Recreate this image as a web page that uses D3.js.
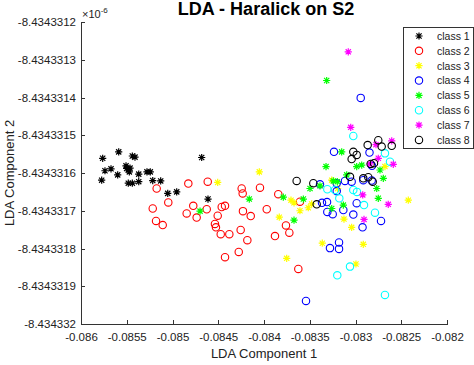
<!DOCTYPE html>
<meta charset="utf-8">
<script src="https://d3js.org/d3.v7.min.js"></script>
<style>
body { margin: 0; background: #fff; }
svg { font-family: "Liberation Sans", Arial, sans-serif; }
.axis path, .axis line { stroke: #333; shape-rendering: crispEdges; }
.axis text { fill: #222; font-size: 11.5px; }
</style>
<body>
<div id="chart"></div>
<script>
// LDA component values (component 2 shown in units of 1e-6)
var class1 = [[-0.085763,-8.434331561],[-0.085588,-8.434331544],[-0.085439,-8.434331555],[-0.085410,-8.434331558],
  [-0.085738,-8.434331594],[-0.085672,-8.434331589],[-0.085599,-8.434331605],[-0.085501,-8.434331588],
  [-0.085483,-8.434331592],[-0.085472,-8.434331597],[-0.085369,-8.434331603],[-0.085279,-8.434331597],
  [-0.085243,-8.434331597],[-0.085774,-8.434331619],[-0.085483,-8.434331627],[-0.085439,-8.434331627],
  [-0.085369,-8.434331623],[-0.085216,-8.434331620],[-0.085129,-8.434331621],[-0.085052,-8.434331654],
  [-0.084954,-8.434331650],[-0.084681,-8.434331559],[-0.084612,-8.434331669],[-0.085508,-8.434331581],
  [-0.085464,-8.434331587]];
var class2 = [[-0.085173,-8.434331641],[-0.084827,-8.434331628],[-0.084615,-8.434331623],[-0.085046,-8.434331678],
  [-0.085216,-8.434331694],[-0.084773,-8.434331687],[-0.084845,-8.434331707],[-0.084736,-8.434331718],
  [-0.084626,-8.434331696],[-0.084462,-8.434331690],[-0.084426,-8.434331687],[-0.084506,-8.434331713],
  [-0.085180,-8.434331727],[-0.085107,-8.434331738],[-0.084536,-8.434331735],[-0.084525,-8.434331744],
  [-0.084473,-8.434331762],[-0.084379,-8.434331762],[-0.084230,-8.434331701],[-0.084145,-8.434331714],
  [-0.084255,-8.434331751],[-0.084182,-8.434331778],[-0.084276,-8.434331809],[-0.084426,-8.434331823],
  [-0.084244,-8.434331641],[-0.084233,-8.434331654],[-0.084044,-8.434331639],[-0.083844,-8.434331656],
  [-0.083607,-8.434331676],[-0.083970,-8.434331696],[-0.083760,-8.434331739],[-0.083723,-8.434331758],
  [-0.083880,-8.434331767],[-0.083625,-8.434331854]];
var class3 = [[-0.084506,-8.434331625],[-0.084051,-8.434331597],[-0.083833,-8.434331717],[-0.083705,-8.434331672],
  [-0.083672,-8.434331679],[-0.083607,-8.434331700],[-0.083516,-8.434331692],[-0.083479,-8.434331682],
  [-0.083363,-8.434331786],[-0.083752,-8.434331826],[-0.083126,-8.434331722],[-0.083042,-8.434331744],
  [-0.082915,-8.434331789],[-0.082995,-8.434331841],[-0.083195,-8.434331641],[-0.082423,-8.434331672],
  [-0.082678,-8.434331583],[-0.083260,-8.434331619]];
var class4 = [[-0.083235,-8.434331544],[-0.083388,-8.434331630],[-0.083366,-8.434331679],[-0.083311,-8.434331677],
  [-0.083308,-8.434331703],[-0.083249,-8.434331709],[-0.083279,-8.434331799],[-0.083180,-8.434331784],
  [-0.083180,-8.434331801],[-0.083133,-8.434331698],[-0.083024,-8.434331710],[-0.082923,-8.434331744],
  [-0.083115,-8.434331621],[-0.083205,-8.434331648],[-0.082987,-8.434331680],[-0.082943,-8.434331401],
  [-0.083541,-8.434331939],[-0.082847,-8.434331546],[-0.083042,-8.434331623],[-0.082915,-8.434331619],
  [-0.082823,-8.434331620],[-0.082721,-8.434331727],[-0.083205,-8.434331627],[-0.082820,-8.434331581]];
var class5 = [[-0.084699,-8.434331701],[-0.084161,-8.434331669],[-0.083789,-8.434331664],[-0.083570,-8.434331669],
  [-0.083672,-8.434331725],[-0.083497,-8.434331641],[-0.083388,-8.434331634],[-0.083322,-8.434331583],
  [-0.083151,-8.434331544],[-0.083243,-8.434331621],[-0.083260,-8.434331694],[-0.083133,-8.434331685],
  [-0.082987,-8.434331583],[-0.083096,-8.434331605],[-0.082768,-8.434331641],[-0.082751,-8.434331667],
  [-0.083315,-8.434331355],[-0.083199,-8.434331623],[-0.082696,-8.434331614],[-0.082932,-8.434331579],
  [-0.082732,-8.434331592]];
var class6 = [[-0.083024,-8.434331502],[-0.083308,-8.434331643],[-0.083224,-8.434331645],[-0.083177,-8.434331667],
  [-0.083024,-8.434331645],[-0.082984,-8.434331650],[-0.082907,-8.434331685],[-0.082787,-8.434331705],
  [-0.083060,-8.434331848],[-0.083199,-8.434331871],[-0.082678,-8.434331923],[-0.082678,-8.434331548],
  [-0.082623,-8.434331570]];
var class7 = [[-0.083079,-8.434331279],[-0.083052,-8.434331479],[-0.082604,-8.434331515],[-0.082776,-8.434331525],
  [-0.082907,-8.434331723],[-0.082751,-8.434331561],[-0.082587,-8.434331577],[-0.082842,-8.434331576],
  [-0.082921,-8.434331658],[-0.082642,-8.434331683]];
var class8 = [[-0.083643,-8.434331621],[-0.083461,-8.434331627],[-0.083424,-8.434331683],[-0.083024,-8.434331544],
  [-0.082987,-8.434331552],[-0.083042,-8.434331563],[-0.082867,-8.434331526],[-0.082751,-8.434331513],
  [-0.082714,-8.434331530],[-0.082604,-8.434331528],[-0.083060,-8.434331610],[-0.082915,-8.434331614],
  [-0.082860,-8.434331611],[-0.082834,-8.434331576],[-0.082798,-8.434331574],[-0.082812,-8.434331623]];

var classNames = ["class 1", "class 2", "class 3", "class 4", "class 5", "class 6", "class 7", "class 8"];
var xTicks = [-0.086, -0.0855, -0.085, -0.0845, -0.084, -0.0835, -0.083, -0.0825, -0.082];
var xTickLabels = ["-0.086", "-0.0855", "-0.085", "-0.0845", "-0.084", "-0.0835", "-0.083", "-0.0825", "-0.082"];
var yTicks = [-8.4343312, -8.4343313, -8.4343314, -8.4343315, -8.4343316, -8.4343317, -8.4343318, -8.4343319, -8.434332];
var yTickLabels = ["-8.4343312", "-8.4343313", "-8.4343314", "-8.4343315", "-8.4343316", "-8.4343317", "-8.4343318", "-8.4343319", "-8.434332"];

var allClasses = [class1, class2, class3, class4, class5, class6, class7, class8];
var colors = ["#000000", "#ff0000", "#ffff00", "#0000ff", "#00ff00", "#00ffff", "#ff00ff", "#000000"];
var shapes = ["star", "circle", "star", "circle", "star", "circle", "star", "circle"];

var width = 474, height = 365;
var margin = {top: 22, right: 27, bottom: 41, left: 81};

var svg = d3.select("#chart").append("svg")
    .attr("width", width)
    .attr("height", height);

var x = d3.scaleLinear()
    .domain([-0.086, -0.082])
    .range([margin.left, width - margin.right]);

var y = d3.scaleLinear()
    .domain([-8.434332, -8.4343312])
    .range([height - margin.bottom, margin.top]);

// axes, MATLAB style: ticks pointing inward, no box
svg.append("g")
    .attr("class", "axis")
    .attr("transform", "translate(0," + (height - margin.bottom) + ")")
    .call(d3.axisBottom(x).tickValues(xTicks).tickSizeInner(-4).tickSizeOuter(0).tickPadding(9)
      .tickFormat(function(d, i) { return xTickLabels[i]; }));

svg.append("g")
    .attr("class", "axis")
    .attr("transform", "translate(" + margin.left + ",0)")
    .call(d3.axisLeft(y).tickValues(yTicks).tickSizeInner(-4).tickSizeOuter(0).tickPadding(5)
      .tickFormat(function(d, i) { return yTickLabels[i]; }));

// star marker (MATLAB '*')
var s = 3.6, d = 2.6;
var starPath = "M" + (-s) + ",0H" + s + "M0," + (-s) + "V" + s +
  "M" + (-d) + "," + (-d) + "L" + d + "," + d + "M" + (-d) + "," + d + "L" + d + "," + (-d);

function drawMarker(g, shape, color) {
  if (shape == "circle") {
    g.append("circle").attr("r", 3.7)
      .attr("fill", "none").attr("stroke", color).attr("stroke-width", 1.1);
  } else {
    g.append("path").attr("d", starPath)
      .attr("fill", "none").attr("stroke", color).attr("stroke-width", 1.2);
  }
}

allClasses.forEach(function(pts, k) {
  var grp = svg.append("g");
  pts.forEach(function(p) {
    var m = grp.append("g").attr("transform", "translate(" + x(p[0]) + "," + y(p[1]) + ")");
    drawMarker(m, shapes[k], colors[k]);
  });
});

// title, exponent and axis labels
svg.append("text")
    .attr("x", 266).attr("y", 15)
    .attr("text-anchor", "middle")
    .style("font-size", "18px").style("font-weight", "bold")
    .text("LDA - Haralick on S2");

var expo = svg.append("text")
    .attr("x", 82).attr("y", 18)
    .style("font-size", "11px").style("fill", "#222");
expo.append("tspan").text("\u00d710");
expo.append("tspan").attr("dy", -5).style("font-size", "8px").text("-6");

svg.append("text")
    .attr("x", (margin.left + width - margin.right) / 2).attr("y", 358)
    .attr("text-anchor", "middle")
    .style("font-size", "13px").style("fill", "#222")
    .text("LDA Component 1");

svg.append("text")
    .attr("transform", "translate(14," + ((margin.top + height - margin.bottom) / 2) + ") rotate(-90)")
    .attr("text-anchor", "middle")
    .style("font-size", "13px").style("fill", "#222")
    .text("LDA Component 2");

// legend
var legend = svg.append("g");
legend.append("rect")
    .attr("x", 403.5).attr("y", 27.5).attr("width", 70).attr("height", 121)
    .attr("fill", "#fff").attr("stroke", "#333");

classNames.forEach(function(name, k) {
  var ly = 36 + k * 14.85;
  var m = legend.append("g").attr("transform", "translate(419," + ly + ")");
  drawMarker(m, shapes[k], colors[k]);
  legend.append("text")
      .attr("x", 437).attr("y", ly + 3.8)
      .style("font-size", "10.5px").style("fill", "#222")
      .text(name);
});
</script>
</body>
